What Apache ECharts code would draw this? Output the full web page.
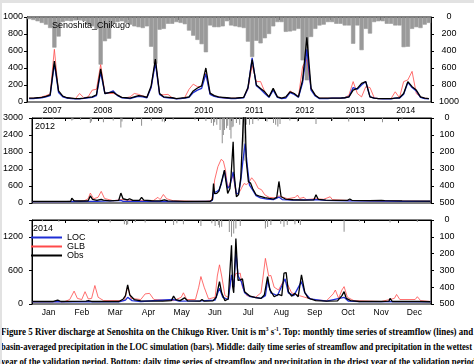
<!DOCTYPE html>
<html><head><meta charset="utf-8">
<script src="https://cdn.jsdelivr.net/npm/echarts@6/dist/echarts.min.js"></script>
<style>
html,body{margin:0;padding:0;background:#fff;width:474px;height:364px;overflow:hidden;}
#chart{position:absolute;left:0;top:0;width:474px;height:320px;}
.strip{position:absolute;background:#e2e2e2;z-index:5;}
.cap{position:absolute;left:1px;white-space:nowrap;font-family:'Liberation Serif','Times New Roman',serif;font-weight:bold;font-size:10px;line-height:14px;color:#000;transform-origin:0 0;z-index:4;}
.cap sup{font-size:6px;line-height:0;vertical-align:4px;}
</style></head><body>
<div id="chart"></div>
<div class="strip" style="left:0;top:0;width:474px;height:3px;"></div>
<div class="strip" style="left:0;top:0;width:2px;height:364px;"></div>
<div class="cap" id="c1" style="top:325px;">Figure 5 River discharge at Senoshita on the Chikugo River. Unit is m<sup>3</sup> s<sup>-1</sup>. Top: monthly time series of streamflow (lines) and</div>
<div class="cap" id="c2" style="top:340px;">basin-averaged precipitation in the LOC simulation (bars). Middle: daily time series of streamflow and precipitation in the wettest</div>
<div class="cap" id="c3" style="top:355px;">year of the validation period. Bottom: daily time series of streamflow and precipitation in the driest year of the validation period.</div>
<script>
// ---------- data ----------
const years = ['2007','2008','2009','2010','2011','2012','2013','2014'];
const monthNames = ['Jan','Feb','Mar','Apr','May','Jun','Jul','Aug','Sep','Oct','Nov','Dec'];

// monthly basin precipitation (LOC), Jan 2007 .. Dec 2014
const precipMonthly = [
 25,35,50,70,90,130,360,230,60,45,50,40,
 40,50,90,110,140,560,285,255,80,60,50,70,
 90,110,120,130,110,350,550,150,140,80,80,60,
 70,85,160,220,270,320,415,100,120,120,110,50,
 100,110,120,130,290,470,280,310,250,200,110,60,
 60,175,170,160,140,510,745,235,140,100,90,60,
 60,80,80,100,100,315,100,390,140,195,60,50,
 50,80,80,100,100,355,350,140,120,130,90,70];
const obsMonthly = [
 45,45,50,55,65,85,480,130,70,50,45,40,
 40,45,55,60,85,390,100,110,115,80,55,50,
 45,60,75,70,55,190,505,100,60,55,50,40,
 45,50,60,130,165,190,400,105,75,60,55,50,
 45,45,50,55,170,500,200,160,120,60,160,60,
 45,60,120,100,60,260,760,160,80,45,45,45,
 45,45,45,50,60,140,160,220,240,60,45,40,
 40,40,40,45,50,100,240,180,140,60,45,40];
const locMonthly = [
 40,40,45,50,60,75,450,110,60,45,40,38,
 38,42,50,55,75,350,100,110,130,75,50,45,
 40,55,65,60,50,170,460,90,55,50,45,38,
 40,45,55,110,140,160,330,90,65,55,50,45,
 40,40,45,50,160,520,190,150,100,55,140,55,
 40,45,110,90,55,230,620,140,70,40,40,40,
 45,45,45,50,60,170,150,200,240,60,45,40,
 38,38,38,45,45,90,230,170,130,55,40,38];
const glbMonthly = [
 45,45,50,60,75,95,620,110,65,50,45,40,
 100,50,60,140,150,440,110,100,100,85,55,50,
 60,100,90,70,60,170,490,90,85,90,50,40,
 40,55,150,210,180,185,340,90,70,60,50,45,
 45,45,50,55,150,430,240,240,120,60,150,60,
 45,50,130,100,60,420,500,150,80,45,45,45,
 45,45,45,50,80,240,100,60,180,170,50,40,
 40,40,40,120,50,240,260,360,100,60,45,40];

// daily, 2012 (wettest year): [day of year, value]
const precip2012 = [[10,8],[20,10],[37,15],[38,10],[45,12],[54,30],[55,20],[66,25],[75,15],[82,56],[83,20],[95,12],[101,45],[110,15],[120,20],[122,25],[130,12],[150,10],[160,18],[165,30],[167,45],[168,25],[170,40],[173,70],[175,149],[176,100],[177,70],[179,60],[180,45],[182,70],[183,120],[184,55],[185,50],[188,30],[191,40],[194,140],[195,250],[196,90],[197,40],[200,40],[203,35],[208,15],[216,20],[222,30],[224,40],[226,50],[228,35],[237,15],[244,20],[261,35],[276,15],[291,20],[322,25],[340,10]];
const obs2012 = [[1,60],[15,55],[30,55],[36,60],[37,170],[39,80],[45,70],[52,80],[54,250],[56,130],[60,90],[64,130],[66,100],[72,75],[80,90],[82,350],[84,150],[88,110],[90,150],[93,95],[99,90],[101,200],[103,100],[110,80],[118,75],[122,110],[125,75],[140,60],[155,55],[164,60],[166,120],[167,690],[168,330],[170,340],[172,420],[174,700],[177,1160],[178,870],[180,340],[182,500],[183,900],[185,2160],[186,1000],[188,220],[190,300],[192,900],[194,2600],[195,3400],[196,3100],[197,1500],[199,750],[201,700],[203,500],[206,290],[210,230],[214,190],[218,160],[222,140],[225,200],[227,760],[229,220],[233,140],[240,115],[250,105],[259,110],[261,290],[263,130],[270,105],[280,95],[290,95],[292,140],[294,95],[310,85],[321,90],[322,150],[324,85],[340,75],[366,65]];
const loc2012 = [[1,50],[30,50],[54,60],[60,55],[82,90],[84,60],[100,60],[140,50],[164,55],[166,100],[167,400],[169,380],[172,460],[174,650],[177,1130],[178,950],[180,520],[182,600],[185,1100],[187,550],[188,320],[190,350],[192,800],[194,1500],[196,2100],[198,1300],[200,630],[203,450],[206,260],[210,180],[216,140],[222,120],[227,210],[230,120],[240,100],[261,120],[270,90],[290,80],[320,70],[340,60],[366,55]];
const glb2012 = [[1,50],[30,50],[48,70],[52,150],[54,350],[57,150],[61,200],[64,410],[67,160],[75,80],[82,120],[95,80],[112,90],[116,200],[118,120],[121,300],[124,150],[130,80],[150,60],[160,60],[165,80],[167,400],[168,810],[171,1280],[174,1540],[176,1480],[178,1160],[180,520],[182,700],[185,990],[187,480],[188,300],[191,400],[193,550],[195,690],[197,650],[199,700],[202,890],[205,750],[208,520],[211,470],[214,290],[218,200],[224,180],[227,250],[235,150],[242,200],[244,280],[246,160],[250,200],[252,120],[261,150],[268,130],[274,220],[276,120],[290,90],[320,70],[366,60]];

// daily, 2014 (driest year)
const precip2014 = [[10,8],[25,10],[52,12],[60,10],[72,15],[85,25],[87,30],[88,25],[95,12],[104,15],[130,30],[133,20],[139,25],[155,36],[165,20],[168,35],[171,30],[172,45],[174,40],[181,71],[183,100],[185,80],[187,50],[191,35],[214,50],[216,42],[219,30],[228,22],[231,40],[234,30],[241,25],[246,30],[286,70],[300,10],[328,15],[353,12]];
const obs2014 = [[1,45],[20,45],[24,70],[27,45],[50,50],[52,60],[55,45],[80,45],[84,90],[86,150],[88,340],[90,160],[94,80],[100,55],[120,50],[128,60],[130,140],[132,80],[136,60],[140,110],[143,55],[154,50],[156,80],[158,50],[166,55],[169,120],[172,400],[174,200],[177,60],[180,90],[183,1050],[184,320],[185,200],[187,1170],[189,420],[191,430],[193,450],[195,220],[200,140],[205,115],[210,100],[213,160],[216,490],[218,260],[222,130],[226,170],[229,150],[231,550],[233,560],[235,220],[238,140],[241,190],[244,130],[247,520],[250,210],[253,110],[256,85],[260,60],[270,50],[280,55],[284,150],[286,220],[288,100],[292,60],[300,45],[320,45],[327,50],[328,100],[330,45],[352,45],[353,60],[355,45],[365,40]];
const loc2014 = [[1,40],[80,40],[86,70],[88,120],[92,60],[100,45],[130,80],[135,50],[155,55],[168,70],[172,280],[175,120],[180,80],[183,520],[185,300],[187,930],[189,500],[192,400],[195,200],[200,130],[210,100],[214,150],[216,420],[219,200],[225,150],[232,450],[235,200],[240,150],[247,400],[250,200],[255,90],[270,50],[286,120],[290,50],[300,42],[365,40]];
const glb2014 = [[1,40],[30,40],[35,80],[39,230],[42,100],[46,80],[49,220],[52,90],[55,100],[58,330],[61,120],[66,60],[85,60],[88,310],[91,100],[100,80],[104,180],[108,190],[112,80],[130,60],[137,120],[139,200],[142,80],[150,80],[153,300],[155,490],[158,300],[162,90],[168,120],[170,500],[172,700],[174,500],[177,150],[180,120],[183,500],[185,400],[187,550],[189,540],[191,550],[193,300],[197,150],[205,120],[210,200],[214,815],[217,500],[219,510],[222,300],[226,250],[231,430],[234,360],[238,200],[245,150],[250,120],[260,70],[270,60],[276,180],[278,250],[281,100],[284,250],[286,310],[289,120],[295,60],[320,45],[332,100],[334,170],[337,80],[351,80],[353,130],[356,60],[365,45]];

// ---------- chart ----------
const FONT = "'Liberation Sans', Arial, Helvetica, sans-serif";
const monthCats = years.flatMap(y => monthNames.map(m => y + '-' + m));
const black = {show:true, lineStyle:{color:'#000', width:1}};
const tick = {show:true, length:3, lineStyle:{color:'#000', width:1}};
const plain = v => String(v);
const lbl = (o) => Object.assign({color:'#000', fontSize:9, fontFamily:FONT, formatter:plain}, o);
const COL = {LOC:'#1f2fd6', GLB:'#ff4a4a', Obs:'#000000'};
const WID = {LOC:1.3, GLB:0.8, Obs:1.3};

const grids = [
  {left:26, top:17, width:405, height:85},
  {left:26, top:118, width:405, height:85},
  {left:26, top:220, width:405, height:84}
].map(g => Object.assign(g, {show:true, borderColor:'#000', borderWidth:1, backgroundColor:'transparent', containLabel:false}));

const xAxis = [
  {gridIndex:0, type:'category', data:monthCats, position:'top', show:false, boundaryGap:true},
  {gridIndex:0, type:'category', data:years, position:'bottom', boundaryGap:true, axisLine:black, axisTick:Object.assign({interval:0}, tick), axisLabel:{color:'#000', fontFamily:FONT, interval:0, fontSize:8.5, margin:4}},
  {gridIndex:1, type:'value', min:0.5, max:366.5, position:'top', show:false},
  {gridIndex:1, type:'category', data:monthNames, position:'bottom', boundaryGap:true, axisLine:black, axisTick:Object.assign({interval:0}, tick), axisLabel:{show:false}},
  {gridIndex:2, type:'value', min:0.5, max:365.5, position:'top', show:false},
  {gridIndex:2, type:'category', data:monthNames, position:'bottom', boundaryGap:true, axisLine:black, axisTick:Object.assign({interval:0}, tick), axisLabel:{color:'#000', fontFamily:FONT, interval:0, fontSize:8.5, margin:4}}
];
const noSplit = {show:false};
const yAxis = [
  {gridIndex:0, type:'value', min:0, max:1000, interval:200, position:'left', axisLine:black, axisTick:tick, splitLine:noSplit, axisLabel:lbl({margin:4})},
  {gridIndex:0, type:'value', min:0, max:1000, interval:200, inverse:true, position:'right', axisLine:black, axisTick:tick, splitLine:noSplit, axisLabel:lbl({margin:18, align:'center'})},
  {gridIndex:1, type:'value', min:0, max:3000, interval:600, position:'left', axisLine:black, axisTick:tick, splitLine:noSplit, axisLabel:lbl({margin:9})},
  {gridIndex:1, type:'value', min:0, max:500, interval:100, inverse:true, position:'right', axisLine:black, axisTick:tick, splitLine:noSplit, axisLabel:lbl({margin:16, align:'center'})},
  {gridIndex:2, type:'value', min:0, max:1500, interval:600, position:'left', axisLine:black, axisTick:tick, splitLine:noSplit, axisLabel:lbl({margin:9, formatter:v => (v % 600 === 0 ? String(v) : '')})},
  {gridIndex:2, type:'value', min:0, max:500, interval:100, inverse:true, position:'right', axisLine:black, axisTick:tick, splitLine:noSplit, axisLabel:lbl({margin:16, align:'center'})}
];

function line(name, data, xi, yi) {
  return {type:'line', name, data, xAxisIndex:xi, yAxisIndex:yi, showSymbol:false, symbol:'none', clip:true,
    lineStyle:{color:COL[name], width:WID[name]}, itemStyle:{color:COL[name]}, z:3, silent:true, animation:false};
}
function bars(data, xi, yi, opts) {
  return Object.assign({type:'bar', data, xAxisIndex:xi, yAxisIndex:yi, itemStyle:{color:'#9a9a9a'}, z:1, silent:true, animation:false, legendHoverLink:false}, opts);
}

const series = [
  bars(precipMonthly, 0, 1, {barCategoryGap:'0%', itemStyle:{color:'#9a9a9a', borderColor:'#9a9a9a', borderWidth:0.6}}),
  line('GLB', glbMonthly, 0, 0), line('LOC', locMonthly, 0, 0), line('Obs', obsMonthly, 0, 0),
  bars(precip2012, 2, 3, {barWidth:1, itemStyle:{color:'#8f8f8f'}}),
  line('GLB', glb2012, 2, 2), line('LOC', loc2012, 2, 2), line('Obs', obs2012, 2, 2),
  bars(precip2014, 4, 5, {barWidth:1, itemStyle:{color:'#8f8f8f'}}),
  line('GLB', glb2014, 4, 4), line('LOC', loc2014, 4, 4), line('Obs', obs2014, 4, 4)
];

const chart = echarts.init(document.getElementById('chart'), null, {renderer:'canvas'});
chart.setOption({
  animation:false,
  backgroundColor:'transparent',
  grid:grids, xAxis, yAxis, series,
  legend:{data:['LOC','GLB','Obs'], orient:'vertical', left:31, top:233, icon:'rect', itemWidth:31, itemHeight:2, itemGap:0, padding:0, selectedMode:false, z:20,
    textStyle:{fontSize:9, lineHeight:8, color:'#000', fontFamily:FONT, padding:[0,0,0,0]}},
  graphic:[
    {type:'text', x:52, y:21, z:100, style:{text:'Senoshita_Chikugo', fontSize:9, fontFamily:FONT, fill:'#000'}},
    {type:'text', x:35, y:122, z:100, style:{text:'2012', fontSize:9, fontFamily:FONT, fill:'#000'}},
    {type:'text', x:33, y:224, z:100, style:{text:'2014', fontSize:9, fontFamily:FONT, fill:'#000'}}
  ]
});

// fit caption lines to the page width
const c1 = document.getElementById('c1'), c2 = document.getElementById('c2'), c3 = document.getElementById('c3');
const s1 = 472 / c1.scrollWidth, s2 = 471 / c2.scrollWidth;
c1.style.transform = 'scaleX(' + s1 + ')';
c2.style.transform = 'scaleX(' + s2 + ')';
c3.style.transform = 'scaleX(' + ((s1 + s2) / 2) + ')';
</script>
</body></html>
